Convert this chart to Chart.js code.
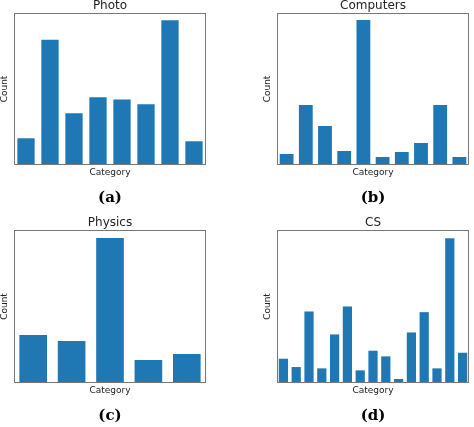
<!DOCTYPE html><html><head><script src="https://cdn.jsdelivr.net/npm/chart.js@4"></script>
<style>body{margin:0;background:#fff;width:474px;height:427px;position:relative;overflow:hidden}canvas{position:absolute;left:0;top:0}</style></head><body>
<canvas id="ca" width="474" height="427"></canvas><canvas id="cb" width="474" height="427"></canvas><canvas id="cc" width="474" height="427"></canvas><canvas id="cd" width="474" height="427"></canvas>
<script>
const photoValues=[80,375,155,203,196,182,433,71];
const computersValues=[11,60,39,14,145,8,13,22,60,8];
const physicsValues=[48,42,145,23,29];
const csValues=[73,48,215,44,146,230,38,97,80,12,152,213,44,435,91];
const titles=["Photo","Computers","Physics","CS"];
const captions=["(a)","(b)","(c)","(d)"];
const panels=[
 {id:"ca",v:photoValues,max:455,box:[14,13,206,165]},
 {id:"cb",v:computersValues,max:152,box:[277,13,469,165]},
 {id:"cc",v:physicsValues,max:153,box:[14,230,206,383]},
 {id:"cd",v:csValues,max:460,box:[277,230,469,383]}];
panels.forEach((p,i)=>{
 const [L,T,R,B]=p.box;
 const deco={id:"deco",afterDraw(c){const x=c.ctx,a=c.chartArea;x.save();
  x.strokeStyle="#777";x.lineWidth=1;x.strokeRect(a.left+0.5,a.top+0.5,a.right-a.left-1,a.bottom-a.top-1);
  x.fillStyle="#222";x.textAlign="center";x.textBaseline="alphabetic";
  const cx=(a.left+a.right)/2;
  x.font="12px 'DejaVu Sans'";x.fillText(titles[i],cx,a.top-4);
  x.font="9px 'DejaVu Sans'";x.textBaseline="top";x.fillText("Category",cx,a.bottom+3);
  x.save();x.translate(a.left-9,(a.top+a.bottom)/2);x.rotate(-Math.PI/2);x.textBaseline="middle";x.fillText("Count",0,0);x.restore();
  x.font="bold 15px 'DejaVu Serif'";x.textBaseline="alphabetic";x.fillStyle="#000";x.fillText(captions[i],cx,a.bottom+37);
  x.restore();}};
 new Chart(document.getElementById(p.id),{type:"bar",
  data:{labels:p.v.map((_,k)=>String(k)),datasets:[{data:p.v,backgroundColor:"#1f77b4",barPercentage:0.72,categoryPercentage:1}]},
  options:{responsive:false,animation:false,devicePixelRatio:1,events:[],
   layout:{padding:{left:L,top:T,right:474-R,bottom:427-B}},
   plugins:{legend:{display:false},tooltip:{enabled:false},title:{display:false}},
   scales:{x:{display:true,grid:{display:false},ticks:{display:false},border:{display:false},afterFit(s){s.height=0;}},
    y:{display:true,min:0,max:p.max,grid:{display:false},ticks:{display:false},border:{display:false},afterFit(s){s.width=0;}}}},
  plugins:[deco]});
});
</script></body></html>
